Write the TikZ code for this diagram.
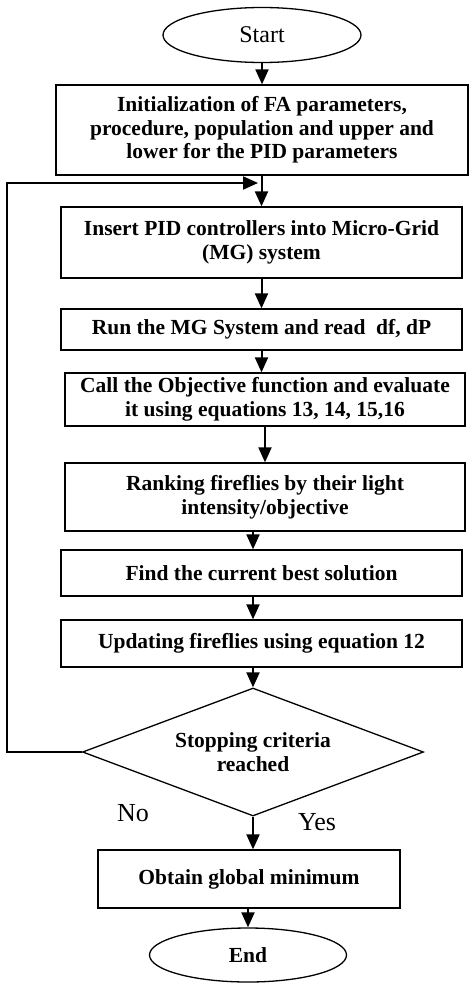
\documentclass[tikz,border=0pt]{standalone}
\usepackage{fontspec}
\setmainfont{Liberation Serif}
\usetikzlibrary{arrows.meta,shapes.geometric}

\begin{document}
\begin{tikzpicture}[x=1pt,y=-1pt,
    box/.style={draw,line width=1.3pt,align=center,inner sep=0pt,
      font=\fontsize{21.5}{23.5}\selectfont\bfseries},
    term/.style={draw,ellipse,line width=1.3pt,inner sep=0pt},
    arr/.style={line width=2pt,-{Triangle[length=15pt,width=13pt]}}]
  \useasboundingbox (0,0) rectangle (474,985);
  \node[term,minimum width=198,minimum height=55,font=\fontsize{24}{26}\selectfont] (start) at (262,35) {Start};
  \node[box,minimum width=412,minimum height=90] (init) at (262,130)
    {Initialization of FA parameters,\\procedure, population and upper and\\lower for the PID parameters};
  \node[box,minimum width=401,minimum height=71] (insert) at (261.5,242.5)
    {Insert PID controllers into Micro-Grid\\(MG) system};
  \node[box,minimum width=401,minimum height=41] (run) at (261.5,329.5)
    {Run the MG System and read \ df, dP};
  \node[box,minimum width=400,minimum height=53] (call) at (265,399.5)
    {Call the Objective function and evaluate\\it using equations 13, 14, 15,16};
  \node[box,minimum width=400,minimum height=68] (rank) at (265,497)
    {Ranking fireflies by their light\\intensity/objective};
  \node[box,minimum width=401,minimum height=46] (best) at (261.5,573)
    {Find the current best solution};
  \node[box,minimum width=401,minimum height=47] (update) at (261.5,643.5)
    {Updating fireflies using equation 12};
  \node[box,diamond,aspect=2.66,minimum width=341,minimum height=128] (stop) at (253,752)
    {Stopping criteria\\reached};
  \node[box,minimum width=302,minimum height=58] (global) at (249,879)
    {Obtain global minimum};
  \node[term,minimum width=197,minimum height=54,font=\fontsize{21.5}{23.5}\selectfont\bfseries] (end) at (248,955) {End};
  \node[font=\fontsize{26}{28}\selectfont] (no) at (133,813) {No};
  \node[font=\fontsize{26}{28}\selectfont] (yes) at (317,822) {Yes};
  \coordinate (loopin) at (258,183);

  \draw[arr] (start) -- (start |- init.north);
  \draw[arr] (init.south -| insert) -- (insert.north);
  \draw[arr] (insert.south -| run) -- (run.north);
  \draw[arr] (run.south) -- (run.south |- call.north);
  \draw[arr] (call.south) -- (call.south |- rank.north);
  \draw[arr] (rank.south -| stop) -- (stop |- best.north);
  \draw[arr] (best.south -| stop) -- (stop |- update.north);
  \draw[arr] (update.south -| stop) -- (stop.north);
  \draw[arr] (stop.south) -- (stop.south |- global.north);
  \draw[arr] (global.south -| end) -- (end.north);
  \draw[arr] (stop.west) -- ++(-75,0) |- (loopin);
\end{tikzpicture}
\end{document}
